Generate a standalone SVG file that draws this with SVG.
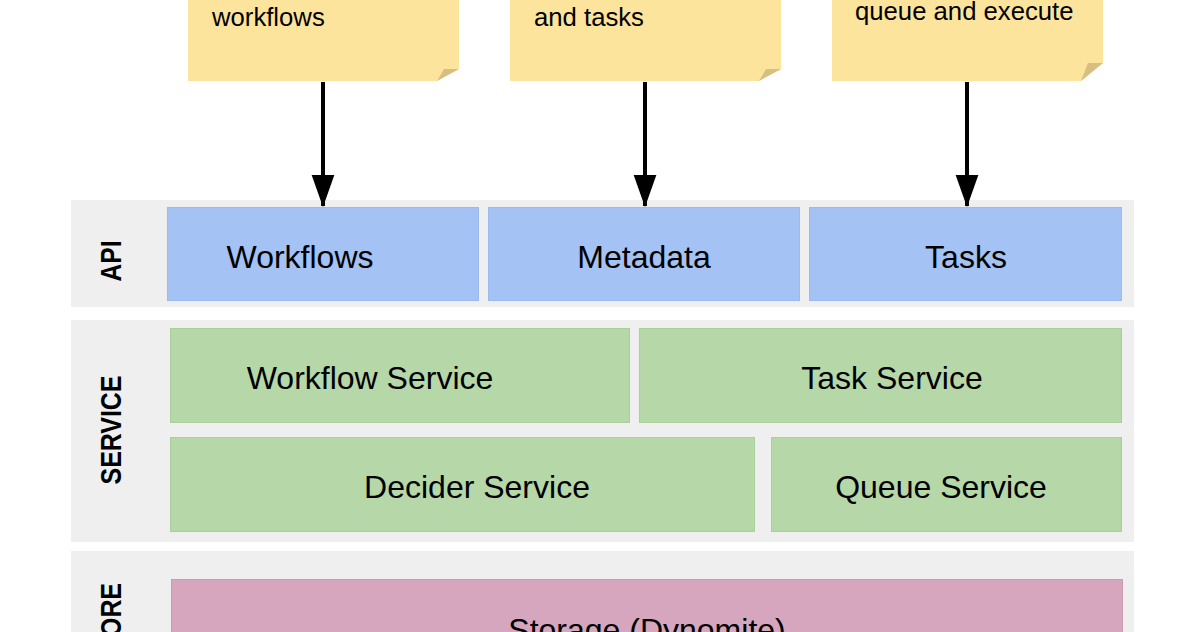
<svg xmlns="http://www.w3.org/2000/svg" width="1200" height="632" viewBox="0 0 1200 632">
<defs>
<style>
.band{fill:#efefef;}
.api{fill:#a4c2f4;stroke:#9bbaf0;stroke-width:1;}
.svc{fill:#b6d7a8;stroke:#aacf9b;stroke-width:1;}
.core{fill:#d5a6bd;stroke:#cc9ab3;stroke-width:1;}
.note{fill:#fde49c;}
.fold{fill:#d6bf80;}
.lbl{font-family:"Liberation Sans",Arial,sans-serif;font-size:32px;fill:#000;text-anchor:middle;}
.ntx{font-family:"Liberation Sans",Arial,sans-serif;font-size:25.7px;fill:#000;}
.side{font-family:"Liberation Sans",Arial,sans-serif;font-size:29px;font-weight:bold;fill:#000;}
.conn{stroke:#000;stroke-width:4;fill:none;}
</style>
<marker id="ah" markerUnits="userSpaceOnUse" markerWidth="32" markerHeight="24" refX="30" refY="11" orient="auto" viewBox="0 0 31 22">
<path d="M0,0 L31,11 L0,22 Z" fill="#000"/>
</marker>
</defs>
<rect width="1200" height="632" fill="#ffffff"/>

<g id="band-api">
<rect class="band" x="71" y="200" width="1063" height="107"/>
<text class="side" transform="translate(121,261) rotate(-90)" text-anchor="middle" textLength="41" lengthAdjust="spacingAndGlyphs">API</text>
</g>
<g id="band-service">
<rect class="band" x="71" y="320" width="1063" height="222"/>
<text class="side" transform="translate(121,430) rotate(-90)" text-anchor="middle" textLength="109" lengthAdjust="spacingAndGlyphs">SERVICE</text>
</g>
<g id="band-core">
<rect class="band" x="71" y="551" width="1063" height="90"/>
<text class="side" transform="translate(121,655) rotate(-90)" textLength="72" lengthAdjust="spacingAndGlyphs">CORE</text>
</g>

<g id="note-1">
<polygon class="note" points="188,0 459,0 459,69 437,81 188,81"/>
<polygon class="fold" points="437,81 444,69 459,69"/>
<text class="ntx" x="212" y="26">workflows</text>
</g>
<g id="note-2">
<polygon class="note" points="510,0 781,0 781,69 759,81 510,81"/>
<polygon class="fold" points="759,81 766,69 781,69"/>
<text class="ntx" x="534" y="26">and tasks</text>
</g>
<g id="note-3">
<polygon class="note" points="832,0 1103,0 1103,63 1081,81 832,81"/>
<polygon class="fold" points="1081,81 1088,63 1103,63"/>
<text class="ntx" x="855" y="20">queue and execute</text>
</g>

<g id="node-workflows">
<rect class="api" x="167.5" y="207.5" width="311" height="93"/>
<text class="lbl" x="300" y="268">Workflows</text>
</g>
<g id="node-metadata">
<rect class="api" x="488.5" y="207.5" width="311" height="93"/>
<text class="lbl" x="644" y="268">Metadata</text>
</g>
<g id="node-tasks">
<rect class="api" x="809.5" y="207.5" width="312" height="93"/>
<text class="lbl" x="966" y="268">Tasks</text>
</g>

<g id="node-workflow-service">
<rect class="svc" x="170.5" y="328.5" width="459" height="94"/>
<text class="lbl" x="370" y="389">Workflow Service</text>
</g>
<g id="node-task-service">
<rect class="svc" x="639.5" y="328.5" width="482" height="94"/>
<text class="lbl" x="892" y="389">Task Service</text>
</g>
<g id="node-decider-service">
<rect class="svc" x="170.5" y="437.5" width="584" height="94"/>
<text class="lbl" x="477" y="498">Decider Service</text>
</g>
<g id="node-queue-service">
<rect class="svc" x="771.5" y="437.5" width="350" height="94"/>
<text class="lbl" x="941" y="498">Queue Service</text>
</g>

<g id="node-storage">
<rect class="core" x="171.5" y="579.5" width="951" height="80"/>
<text class="lbl" x="647" y="641">Storage (Dynomite)</text>
</g>

<g id="connectors">
<line class="conn" x1="323" y1="82" x2="323" y2="206" marker-end="url(#ah)"/>
<line class="conn" x1="645" y1="82" x2="645" y2="206" marker-end="url(#ah)"/>
<line class="conn" x1="967" y1="82" x2="967" y2="206" marker-end="url(#ah)"/>
</g>
</svg>
